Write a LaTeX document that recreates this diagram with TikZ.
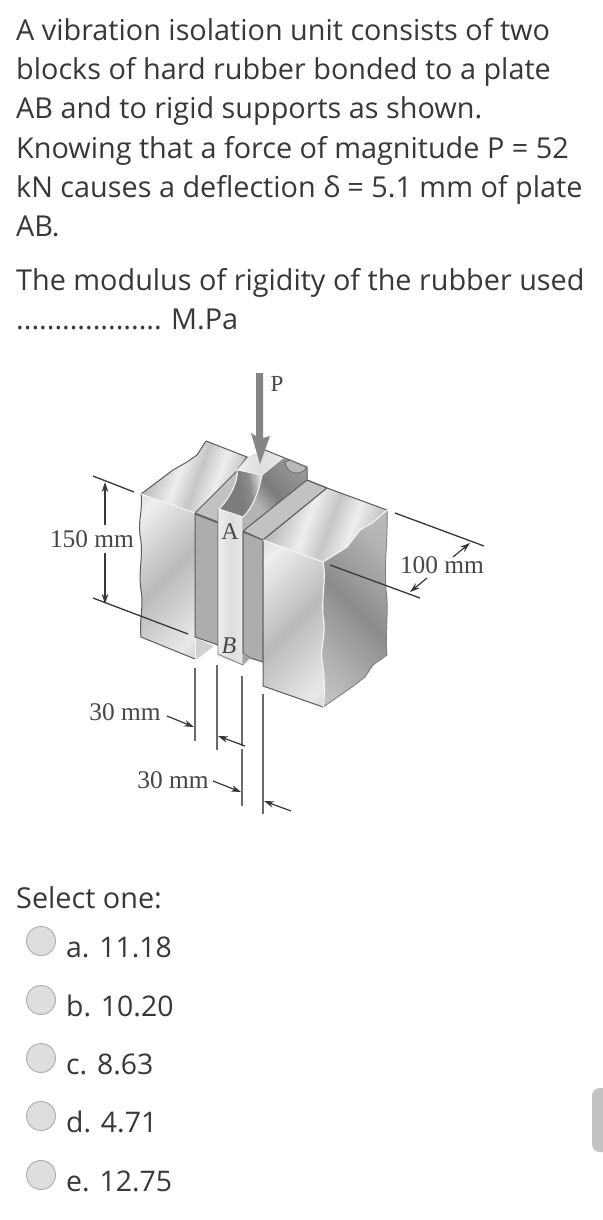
\documentclass[tikz,border=0pt]{standalone}
\usepackage{fontspec}
\setmainfont{Open Sans}
\newfontfamily\figfont{Liberation Serif}
\usetikzlibrary{arrows.meta}
\definecolor{txt}{HTML}{383838}
\definecolor{edge}{HTML}{5c5c5c}
\definecolor{g1}{HTML}{c6c6c6}
\definecolor{g2}{HTML}{eeeeee}
\definecolor{g3}{HTML}{bababa}
\definecolor{g4}{HTML}{e8e8e8}
\definecolor{g5}{HTML}{b2b2b2}
\definecolor{s1}{HTML}{dcdcdc}
\definecolor{s2}{HTML}{b4b4b4}
\definecolor{s3}{HTML}{8c8c8c}
\definecolor{s4}{HTML}{c8c8c8}
\definecolor{k1}{HTML}{7c7c7c}
\definecolor{k2}{HTML}{d4d4d4}
\definecolor{p1}{HTML}{dedede}
\pgfdeclarehorizontalshading{metalfront}{100bp}{color(0bp)=(g1);color(22bp)=(g2);color(50bp)=(g3);color(78bp)=(g4);color(100bp)=(g5)}
\pgfdeclarehorizontalshading{metaltop}{100bp}{color(0bp)=(g3);color(28bp)=(g3);color(42bp)=(g2);color(52bp)=(g1);color(62bp)=(g2);color(75bp)=(g3);color(100bp)=(g3)}
\pgfdeclarehorizontalshading{metalside}{100bp}{color(0bp)=(s1);color(28bp)=(s2);color(50bp)=(s3);color(74bp)=(s2);color(100bp)=(s4)}
\pgfdeclarehorizontalshading{platefront}{100bp}{color(0bp)=(g2);color(25bp)=(g2);color(50bp)=(p1);color(75bp)=(g4);color(100bp)=(g4)}
\pgfdeclarehorizontalshading{curlface}{100bp}{color(0bp)=(k1);color(50bp)=(k1);color(62bp)=(s3);color(74bp)=(k2);color(100bp)=(k2)}
\pgfdeclarehorizontalshading{knuckleside}{100bp}{color(0bp)=(s2);color(35bp)=(s2);color(50bp)=(k1);color(65bp)=(s3);color(100bp)=(s2)}
\tikzset{
  qtext/.style={anchor=base west,inner sep=0pt,text=txt,font=\fontsize{28.8}{34}\selectfont},
  opttext/.style={qtext,font=\fontsize{28.4}{34}\selectfont},
  figlabel/.style={inner sep=0pt,text=black!72,font=\figfont\fontsize{25.4}{30}\selectfont},
  radio/.style={circle,draw=black!30,line width=1pt,fill=black!13,minimum size=29pt,inner sep=0pt},
  dimline/.style={draw=black!78,line width=1.3pt},
  extline/.style={draw=black!58,line width=1.5pt},
  dimarrow/.style={draw=black!78,line width=1.2pt,-{Stealth[length=10pt,width=6.5pt]}},
  grayside/.style={fill=black!32,draw=edge,line width=1pt,line join=round},
  graytop/.style={fill=black!24,draw=edge,line width=1pt,line join=round},
  whiteedge/.style={draw=black!4,line width=1pt},
}
\begin{document}
\begin{tikzpicture}[x=1pt,y=-1pt]
\useasboundingbox[fill=white] (0,0) rectangle (602,1220);
% question
\node[qtext] (l1) at (16,41) {A vibration isolation unit consists of two};
\node[qtext] (l2) at (16,80) {blocks of hard rubber bonded to a plate};
\node[qtext] (l3) at (16,119) {AB and to rigid supports as shown.};
\node[qtext] (l4) at (16,158) {Knowing that a force of magnitude P = 52};
\node[qtext] (l5) at (16,197) {kN causes a deflection δ = 5.1 mm of plate};
\node[qtext] (l6) at (16,236) {AB.};
\node[qtext] (l7) at (16,290) {The modulus of rigidity of the rubber used};
\node[qtext] (l8) at (16,329) {...................};
\node[qtext] (l9) at (171,329) {M.Pa};
% --- left block
\path[shading=metalfront,shading angle=-45] (141,494) -- (195,513) -- (195,659) -- (141,637) .. controls (139,620) and (144,605) .. (141,590) .. controls (138,570) and (144,555) .. (140,535) .. controls (138,520) and (143,510) .. (141,494) -- cycle;
\draw[edge,line width=1pt,line join=round] (141,494) .. controls (143,510) and (138,520) .. (140,535) .. controls (144,555) and (138,570) .. (141,590) .. controls (144,605) and (139,620) .. (141,637) -- (195,659);
\path[shading=metaltop,shading angle=-20] (141,494) -- (173,470) -- (187,462) -- (197,455) -- (206,441) -- (247,457) -- (236,472) -- (195,513) -- cycle;
\draw[edge,line width=1pt,line join=round] (141,494) -- (173,470) -- (187,462) -- (197,455) -- (206,441) -- (247,457);
\draw[whiteedge] (141,494) -- (195,513);
% left block inner faces
\fill[black!18] (195,638) -- (214,646) -- (197,659) -- (195,659) -- cycle;
\draw[black!4,line width=1pt] (195,638) -- (195,659);
\path[grayside] (195,514) -- (218,523) -- (218,645) -- (195,637) -- cycle;
\path[graytop] (195,513) -- (236,472) -- (247,457) -- (262,475) -- (243,517) -- (218,522) -- cycle;
% --- plate front and knuckle
\path[shading=platefront] (218,509) -- (243,517) -- (243,665) -- (218,657) -- cycle;
\draw[black!50,line width=0.8pt] (218,509) -- (218,654) -- (243,665) -- (243,517);
% knuckle side
\path[shading=knuckleside,shading angle=40] (262,475) -- (283,458) -- (307,467) -- (307,480) -- (243,531) -- (243,517) .. controls (252,508) and (258,495) .. (262,475);
% curved break face
\path[shading=curlface,shading angle=10] (237,470) .. controls (239,480) and (230,498) .. (219,509) -- (243,517) .. controls (252,508) and (258,495) .. (262,475) -- cycle;
\draw[black!6,line width=1.1pt] (237,470) .. controls (239,480) and (230,498) .. (219,509) -- (243,517) .. controls (252,508) and (258,495) .. (262,475);
% knuckle top
\path[shading=platefront,shading angle=0] (237,470) -- (249,456) -- (265,450) -- (283,458) -- (262,475) -- cycle;
\draw[black!6,line width=0.8pt] (237,470) -- (262,475) -- (283,458);
\draw[edge,line width=1pt,line join=round] (265,450) -- (307,467) -- (307,480);
\draw[black!55,fill=black!28,line width=1pt] (285,462) .. controls (286,470) and (292,474) .. (298,473) .. controls (303,472) and (306,470) .. (306,467) -- (290,460) -- cycle;
% --- right rubber strip
\path[grayside] (243,532) -- (263,540) -- (263,662) -- (250,658) -- (243,653) -- cycle;
\path[graytop] (243,531) -- (263,540) -- (327,488) -- (307,480) -- cycle;
% --- right block
\path[shading=metalfront,shading angle=-45] (263,540) -- (323,562) .. controls (327,580) and (320,600) .. (324,623) .. controls (325,640) and (320,650) .. (322,660) .. controls (325,680) and (325,695) .. (323,707) -- (263,686) -- cycle;
\path[shading=metaltop,shading angle=-20] (263,540) -- (327,488) -- (387,510) -- (372,523) -- (360,530) -- (347,547) -- (323,562) -- cycle;
\path[shading=metalside,shading angle=45] (387,510) -- (372,523) -- (360,530) -- (347,547) -- (323,562) .. controls (327,580) and (320,600) .. (324,623) .. controls (325,640) and (320,650) .. (322,660) .. controls (325,680) and (325,695) .. (323,707) -- (352,687) -- (365,677) -- (373,665) -- (387,655) .. controls (385,630) and (389,610) .. (386,590) .. controls (384,560) and (388,540) .. (387,510) -- cycle;
\draw[edge,line width=1pt,line join=round] (263,540) -- (263,686) -- (323,707);
\draw[black!50,line width=0.9pt,line join=round] (323,707) -- (352,687) -- (365,677) -- (373,665) -- (387,655) .. controls (385,630) and (389,610) .. (386,590) .. controls (384,560) and (388,540) .. (387,510);
\draw[edge,line width=1pt,line join=round] (387,510) -- (327,488) -- (307,480);
\draw[edge,line width=1pt] (263,540) -- (327,488);
\draw[whiteedge,line width=1.1pt] (263,540) -- (323,562) .. controls (327,580) and (320,600) .. (324,623) .. controls (325,640) and (320,650) .. (322,660) .. controls (325,680) and (325,695) .. (323,707);
\draw[whiteedge,line width=1.1pt] (323,562) -- (347,547) -- (360,530) -- (372,523) -- (387,510);
% plate bottom corner
\fill[black!35] (243,665) -- (250,658) -- (243,653) -- cycle;
% labels on plate
\node[figlabel,font=\figfont\fontsize{24}{30}\selectfont] (lblA) at (230,532) {A};
\node[figlabel,font=\figfont\itshape\fontsize{24}{30}\selectfont] (lblB) at (229,646) {B};
% --- load P
\coordinate (ptop) at (259.5,373);
\coordinate (ptip) at (260,463);
\fill[black!48] (256,373) -- (263,373) -- (263,438) -- (270,436) -- (260,464) -- (251,433) -- (256,436) -- cycle;
\node[figlabel,font=\figfont\fontsize{23}{28}\selectfont] (lblP) at (277,384) {P};
% --- 150 mm
\coordinate (h1a) at (93,476);
\coordinate (h1b) at (134,492);
\coordinate (h2a) at (93,598);
\coordinate (h2b) at (188,634);
\draw[dimline] (h1a) -- (h1b);
\draw[dimline] (h2a) -- (h2b);
\node[figlabel] (d150) at (92,539) {150 mm};
\coordinate (u1) at (105,525);
\coordinate (u2) at (105,482);
\coordinate (u3) at (105,553);
\coordinate (u4) at (105,604);
\draw[dimarrow] (u1) -- (u2);
\draw[dimarrow] (u3) -- (u4);
% --- 100 mm
\coordinate (w1a) at (395,513);
\coordinate (w1b) at (484,546);
\coordinate (w2a) at (330,565);
\coordinate (w2b) at (420,598);
\draw[dimline] (w1a) -- (w1b);
\draw[dimline] (w2a) -- (w2b);
\node[figlabel] (d100) at (442,565) {100 mm};
\coordinate (v1) at (453,557);
\coordinate (v2) at (470,543);
\coordinate (v3) at (427,578);
\coordinate (v4) at (410,592);
\draw[dimarrow] (v1) -- (v2);
\draw[dimarrow] (v3) -- (v4);
% --- 30 mm extension lines
\coordinate (e1a) at (195,668); \coordinate (e1b) at (195,741);
\coordinate (e2a) at (217,665); \coordinate (e2b) at (217,750);
\coordinate (e3a) at (242,676); \coordinate (e3b) at (242,746);
\coordinate (e4a) at (242,749); \coordinate (e4b) at (242,806);
\coordinate (e5a) at (263,694); \coordinate (e5b) at (263,814);
\draw[extline] (e1a) -- (e1b);
\draw[extline] (e2a) -- (e2b);
\draw[extline] (e3a) -- (e3b);
\draw[extline] (e4a) -- (e4b);
\draw[extline] (e5a) -- (e5b);
\node[figlabel] (d30a) at (125,712) {30 mm};
\node[figlabel] (d30b) at (173,780) {30 mm};
\coordinate (a1) at (167,716); \coordinate (a2) at (194,727);
\coordinate (a3) at (245,746); \coordinate (a4) at (218,736);
\coordinate (a5) at (213,781); \coordinate (a6) at (241,792);
\coordinate (a7) at (291,811); \coordinate (a8) at (264,801);
\draw[dimarrow] (a1) -- (a2);
\draw[dimarrow] (a3) -- (a4);
\draw[dimarrow] (a5) -- (a6);
\draw[dimarrow] (a7) -- (a8);
% --- options
\node[qtext] (sel) at (16,908) {Select one:};
\node[radio] (ra) at (41,941) {};
\node[radio] (rb) at (41,1000) {};
\node[radio] (rc) at (41,1058) {};
\node[radio] (rd) at (41,1116) {};
\node[radio] (re) at (41,1175) {};
\node[opttext] (oa) at (66,957) {a. 11.18};
\node[opttext] (ob) at (66,1016) {b. 10.20};
\node[opttext] (oc) at (66,1074) {c. 8.63};
\node[opttext] (od) at (66,1132) {d. 4.71};
\node[opttext] (oe) at (66,1191) {e. 12.75};
% scrollbar
\fill[black!24,rounded corners=8pt] (592,1088) rectangle (612,1152);
\end{tikzpicture}
\end{document}
